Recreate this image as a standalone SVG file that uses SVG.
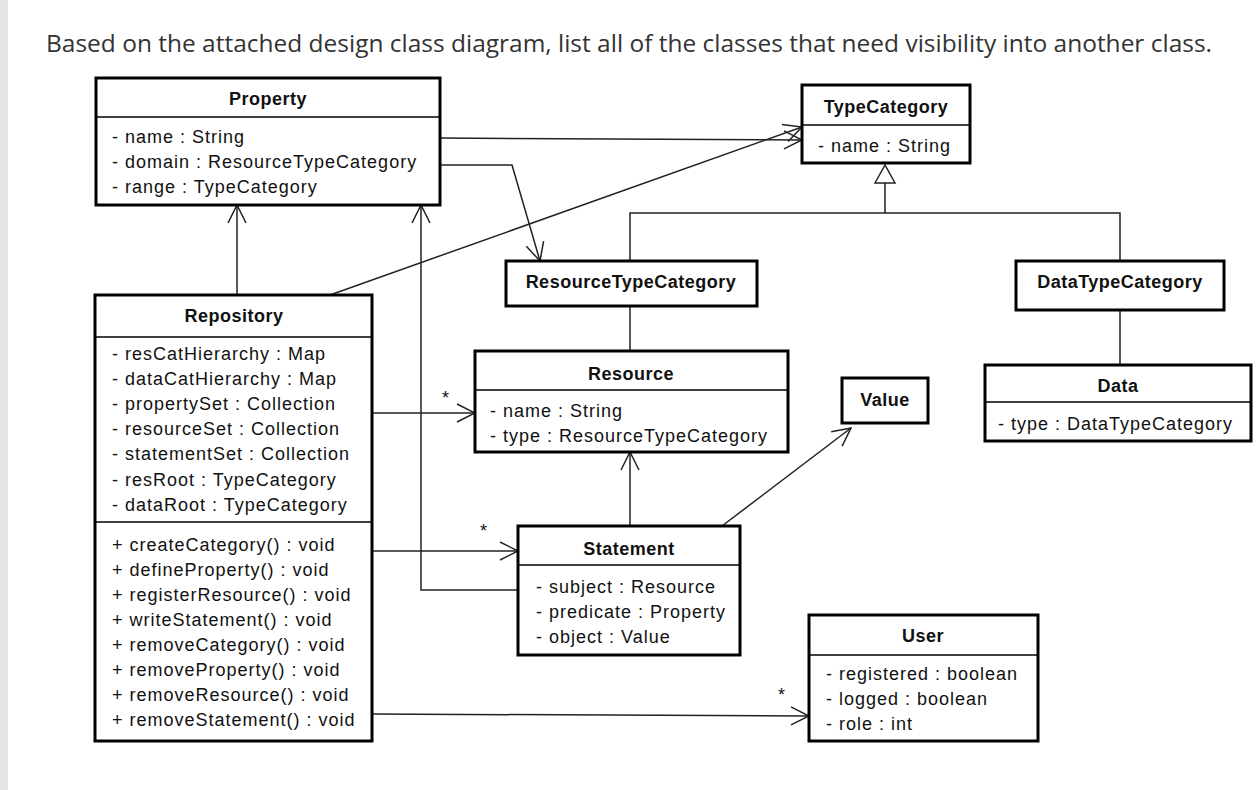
<svg xmlns="http://www.w3.org/2000/svg" width="1260" height="790" viewBox="0 0 1260 790">
<style>
.box{fill:#fff;stroke:#000;stroke-width:3}
.div{stroke:#000;stroke-width:1.5}
.t{font-family:"Liberation Sans",Arial,sans-serif;font-size:18px;letter-spacing:1px;fill:#111}
.h{font-family:"Liberation Sans",Arial,sans-serif;font-size:18px;letter-spacing:0.5px;font-weight:bold;fill:#111;text-anchor:middle}
.c{fill:none;stroke:#222;stroke-width:1.5}
</style>
<defs>
<marker id="a" viewBox="0 0 20 20" refX="19" refY="10" markerWidth="20" markerHeight="20" markerUnits="userSpaceOnUse" orient="auto">
<path d="M1,1 L19,10 L1,19" fill="none" stroke="#222" stroke-width="1.5"/>
</marker>
</defs>
<rect width="1260" height="790" fill="#fff"/>
<rect x="0" y="0" width="8" height="790" fill="#e6e6e6"/>
<text x="46" y="52" textLength="1166" lengthAdjust="spacingAndGlyphs" style="font-family:'Open Sans',sans-serif;font-size:24px;fill:#333">Based on the attached design class diagram, list all of the classes that need visibility into another class.</text>

<g id="connectors">
<path class="c" d="M440,138 L802,140" marker-end="url(#a)"/>
<path class="c" d="M440,165 L512,165 L540,261" marker-end="url(#a)"/>
<path class="c" d="M330,295 L802,127" marker-end="url(#a)"/>
<path class="c" d="M237,295 L237,205" marker-end="url(#a)"/>
<path class="c" d="M518,590 L421,590 L421,205" marker-end="url(#a)"/>
<path class="c" d="M885,183 L885,213 M630,261 L630,213 L1120,213 L1120,261"/>
<path d="M875,183 L885,165 L895,183 Z" fill="#fff" stroke="#222" stroke-width="1.5"/>
<path class="c" d="M630,306 L630,351 M1120,310 L1120,365"/>
<path class="c" d="M372,413 L475,413" marker-end="url(#a)"/>
<path class="c" d="M372,551 L518,551" marker-end="url(#a)"/>
<path class="c" d="M630,526 L630,452" marker-end="url(#a)"/>
<path class="c" d="M722,526 L851,428" marker-end="url(#a)"/>
<path class="c" d="M372,714 L809,716" marker-end="url(#a)"/>
<text class="t" x="442" y="404">*</text>
<text class="t" x="480" y="537">*</text>
<text class="t" x="778" y="701">*</text>
</g>

<g id="Property">
<rect class="box" x="96" y="78" width="344" height="127"/>
<line class="div" x1="96" y1="117" x2="440" y2="117"/>
<text class="h" x="268" y="105">Property</text>
<text class="t" x="112" y="143">- name : String</text>
<text class="t" x="112" y="168">- domain : ResourceTypeCategory</text>
<text class="t" x="112" y="193">- range : TypeCategory</text>
</g>

<g id="TypeCategory">
<rect class="box" x="802" y="85" width="168" height="78"/>
<line class="div" x1="802" y1="125" x2="970" y2="125"/>
<text class="h" x="886" y="113">TypeCategory</text>
<text class="t" x="818" y="152">- name : String</text>
</g>

<g id="ResourceTypeCategory">
<rect class="box" x="506" y="261" width="251" height="45"/>
<text class="h" x="631" y="288">ResourceTypeCategory</text>
</g>

<g id="DataTypeCategory">
<rect class="box" x="1016" y="261" width="208" height="49"/>
<text class="h" x="1120" y="288">DataTypeCategory</text>
</g>

<g id="Repository">
<rect class="box" x="95" y="295" width="277" height="446"/>
<line class="div" x1="95" y1="337" x2="372" y2="337"/>
<line class="div" x1="95" y1="522" x2="372" y2="522"/>
<text class="h" x="234" y="322">Repository</text>
<text class="t" x="112" y="360">- resCatHierarchy : Map</text>
<text class="t" x="112" y="385">- dataCatHierarchy : Map</text>
<text class="t" x="112" y="410">- propertySet : Collection</text>
<text class="t" x="112" y="435">- resourceSet : Collection</text>
<text class="t" x="112" y="460">- statementSet : Collection</text>
<text class="t" x="112" y="486">- resRoot : TypeCategory</text>
<text class="t" x="112" y="511">- dataRoot : TypeCategory</text>
<text class="t" x="112" y="551">+ createCategory() : void</text>
<text class="t" x="112" y="576">+ defineProperty() : void</text>
<text class="t" x="112" y="601">+ registerResource() : void</text>
<text class="t" x="112" y="626">+ writeStatement() : void</text>
<text class="t" x="112" y="651">+ removeCategory() : void</text>
<text class="t" x="112" y="676">+ removeProperty() : void</text>
<text class="t" x="112" y="701">+ removeResource() : void</text>
<text class="t" x="112" y="726">+ removeStatement() : void</text>
</g>

<g id="Resource">
<rect class="box" x="475" y="351" width="313" height="101"/>
<line class="div" x1="475" y1="390" x2="788" y2="390"/>
<text class="h" x="631" y="380">Resource</text>
<text class="t" x="490" y="417">- name : String</text>
<text class="t" x="490" y="442">- type : ResourceTypeCategory</text>
</g>

<g id="Value">
<rect class="box" x="842" y="378" width="86" height="45"/>
<text class="h" x="885" y="406">Value</text>
</g>

<g id="Data">
<rect class="box" x="985" y="365" width="266" height="76"/>
<line class="div" x1="985" y1="402" x2="1251" y2="402"/>
<text class="h" x="1118" y="392">Data</text>
<text class="t" x="998" y="430">- type : DataTypeCategory</text>
</g>

<g id="Statement">
<rect class="box" x="518" y="526" width="222" height="129"/>
<line class="div" x1="518" y1="565" x2="740" y2="565"/>
<text class="h" x="629" y="555">Statement</text>
<text class="t" x="536" y="593">- subject : Resource</text>
<text class="t" x="536" y="618">- predicate : Property</text>
<text class="t" x="536" y="643">- object : Value</text>
</g>

<g id="User">
<rect class="box" x="809" y="615" width="229" height="126"/>
<line class="div" x1="809" y1="655" x2="1038" y2="655"/>
<text class="h" x="923" y="642">User</text>
<text class="t" x="826" y="680">- registered : boolean</text>
<text class="t" x="826" y="705">- logged : boolean</text>
<text class="t" x="826" y="730">- role : int</text>
</g>
</svg>
